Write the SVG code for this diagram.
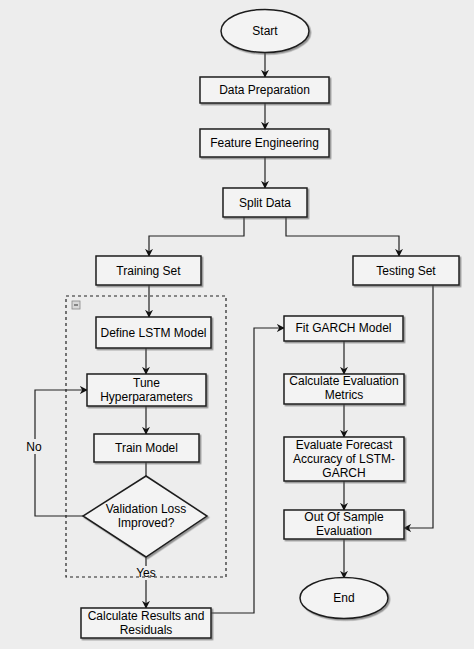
<svg xmlns="http://www.w3.org/2000/svg" width="474" height="649" viewBox="0 0 474 649">
<defs>
<style>
.box{fill:#f3f3f3;stroke:#1e1e1e;stroke-width:1.5;filter:url(#sh)}
.t{font-family:"Liberation Sans",Arial,sans-serif;font-size:12px;fill:#000;text-anchor:middle}
.c{fill:none;stroke:#222;stroke-width:1.2}
.lbl{fill:#ededed}
</style>
<filter id="sh" x="-10%" y="-10%" width="125%" height="130%">
<feDropShadow dx="1.5" dy="1.5" stdDeviation="0.6" flood-color="#555" flood-opacity="0.6"/>
</filter>
<marker id="ar" viewBox="0 0 10 10" refX="9" refY="5" markerWidth="8" markerHeight="8" markerUnits="userSpaceOnUse" orient="auto">
<path d="M0,0 L10,5 L0,10 L3,5 Z" fill="#111"/>
</marker>
</defs>
<rect x="0" y="0" width="474" height="649" fill="#ededed"/>

<g id="connectors">
<line class="c" x1="265" y1="52" x2="265" y2="77" marker-end="url(#ar)"/>
<line class="c" x1="265" y1="103" x2="265" y2="129" marker-end="url(#ar)"/>
<line class="c" x1="265" y1="157" x2="265" y2="188" marker-end="url(#ar)"/>
<polyline class="c" points="244,217 244,236 149,236 149,256" marker-end="url(#ar)"/>
<polyline class="c" points="286,217 286,236 399,236 399,256" marker-end="url(#ar)"/>
<line class="c" x1="149" y1="285" x2="149" y2="317" marker-end="url(#ar)"/>
<line class="c" x1="146" y1="348" x2="146" y2="374" marker-end="url(#ar)"/>
<line class="c" x1="146" y1="406" x2="146" y2="434" marker-end="url(#ar)"/>
<line class="c" x1="146" y1="462" x2="146" y2="476"/>
<polyline class="c" points="83,516 35,516 35,390 87,390" marker-end="url(#ar)"/>
<line class="c" x1="146" y1="557" x2="146" y2="608" marker-end="url(#ar)"/>
<polyline class="c" points="211,613 254,613 254,328 284,328" marker-end="url(#ar)"/>
<line class="c" x1="344" y1="341" x2="344" y2="374" marker-end="url(#ar)"/>
<line class="c" x1="344" y1="404" x2="344" y2="437" marker-end="url(#ar)"/>
<line class="c" x1="344" y1="481" x2="344" y2="510" marker-end="url(#ar)"/>
<polyline class="c" points="433,285 433,528 404,528" marker-end="url(#ar)"/>
<line class="c" x1="344" y1="539" x2="344" y2="578" marker-end="url(#ar)"/>
<rect class="lbl" x="25" y="439" width="20" height="15"/>
<text class="t" x="34" y="451">No</text>
<rect class="lbl" x="134" y="566" width="24" height="14"/>
<text class="t" x="146" y="577">Yes</text>
</g>

<g id="container">
<rect x="66" y="296" width="160" height="281" fill="none" stroke="#222" stroke-width="1.2" stroke-dasharray="3,3"/>
<rect x="72" y="301" width="8" height="8" fill="#d8d8d8" stroke="#888" stroke-width="0.8"/>
<line x1="74" y1="305" x2="78" y2="305" stroke="#333" stroke-width="1"/>
</g>

<g id="start">
<ellipse class="box" cx="265" cy="31" rx="44" ry="21.5"/>
<text class="t" x="265" y="35">Start</text>
</g>
<g id="data-preparation">
<rect class="box" x="200" y="77" width="129" height="26"/>
<text class="t" x="264.5" y="94">Data Preparation</text>
</g>
<g id="feature-engineering">
<rect class="box" x="200" y="129" width="129" height="28"/>
<text class="t" x="264.5" y="147">Feature Engineering</text>
</g>
<g id="split-data">
<rect class="box" x="223" y="188" width="84" height="29"/>
<text class="t" x="265" y="207">Split Data</text>
</g>
<g id="training-set">
<rect class="box" x="96" y="256" width="105" height="29"/>
<text class="t" x="148.5" y="275">Training Set</text>
</g>
<g id="testing-set">
<rect class="box" x="353" y="256" width="106" height="29"/>
<text class="t" x="406" y="275">Testing Set</text>
</g>
<g id="define-lstm">
<rect class="box" x="96" y="317" width="115" height="31"/>
<text class="t" x="153.5" y="337">Define LSTM Model</text>
</g>
<g id="tune-hyperparameters">
<rect class="box" x="87" y="374" width="119" height="32"/>
<text class="t" x="146.5" y="387">Tune</text>
<text class="t" x="146.5" y="401">Hyperparameters</text>
</g>
<g id="train-model">
<rect class="box" x="94" y="434" width="105" height="28"/>
<text class="t" x="146.5" y="452">Train Model</text>
</g>
<g id="validation">
<polygon class="box" points="146,476 207,516 146,557 83,516"/>
<text class="t" x="146" y="513">Validation Loss</text>
<text class="t" x="146" y="527">Improved?</text>
</g>
<g id="calc-results">
<rect class="box" x="81" y="608" width="130" height="30"/>
<text class="t" x="146" y="620">Calculate Results and</text>
<text class="t" x="146" y="634">Residuals</text>
</g>
<g id="fit-garch">
<rect class="box" x="284" y="316" width="119" height="25"/>
<text class="t" x="343.5" y="332">Fit GARCH Model</text>
</g>
<g id="calc-eval">
<rect class="box" x="284" y="374" width="120" height="30"/>
<text class="t" x="344" y="385">Calculate Evaluation</text>
<text class="t" x="344" y="399">Metrics</text>
</g>
<g id="evaluate-forecast">
<rect class="box" x="284" y="437" width="120" height="44"/>
<text class="t" x="344" y="449">Evaluate Forecast</text>
<text class="t" x="344" y="463">Accuracy of LSTM-</text>
<text class="t" x="344" y="477">GARCH</text>
</g>
<g id="out-of-sample">
<rect class="box" x="284" y="510" width="120" height="29"/>
<text class="t" x="344" y="521">Out Of Sample</text>
<text class="t" x="344" y="535">Evaluation</text>
</g>
<g id="end">
<ellipse class="box" cx="344" cy="598" rx="44" ry="20.5"/>
<text class="t" x="344" y="602">End</text>
</g>
</svg>
